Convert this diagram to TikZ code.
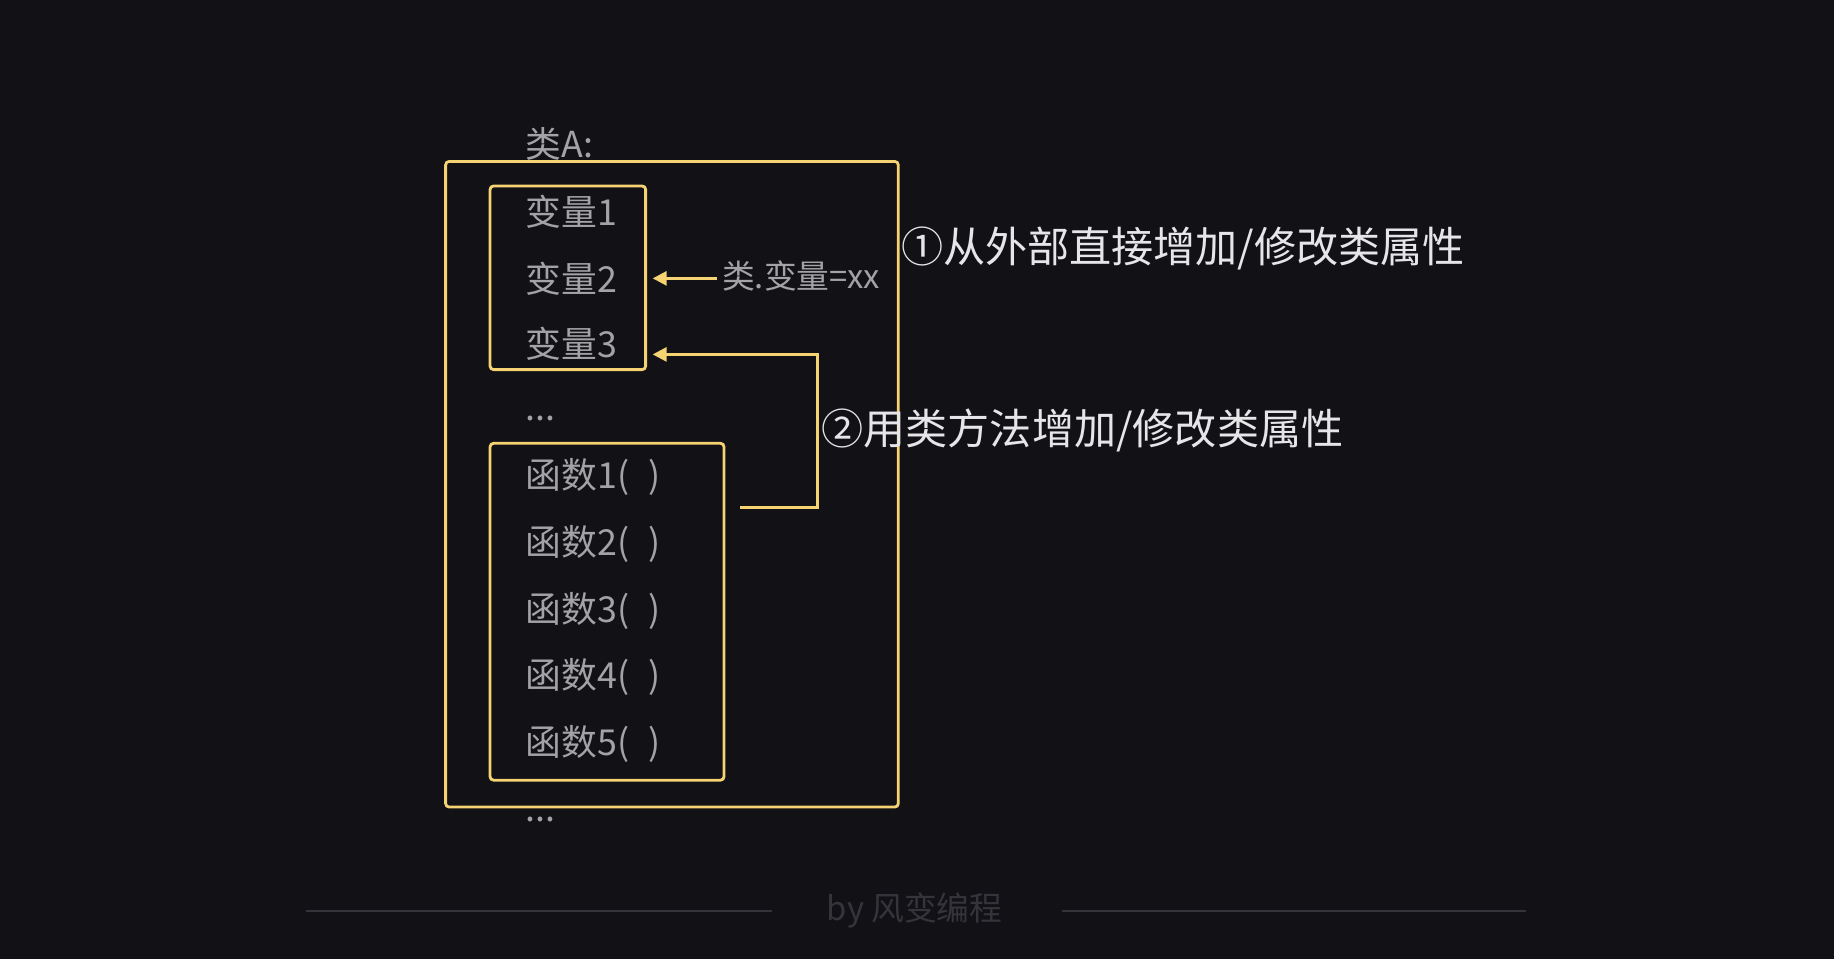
\documentclass[tikz,border=0pt]{standalone}
\usepackage{fontspec}
\setmainfont{Noto Sans CJK SC}
\usetikzlibrary{arrows.meta}
\definecolor{bgdark}{HTML}{111116}
\definecolor{frameyellow}{HTML}{F5D372}
\definecolor{itemgray}{HTML}{A3A3A6}
\definecolor{notewhite}{HTML}{E6E6E8}
\definecolor{footgray}{HTML}{34343A}
\tikzset{
  item/.style={anchor=west, inner sep=0pt, text=itemgray, font=\fontsize{15.3}{18}\selectfont},
  note/.style={anchor=west, inner sep=0pt, text=notewhite, font=\fontsize{18}{21}\selectfont},
  frame/.style={draw=frameyellow, line width=1.2pt, rounded corners=1.5pt},
  link/.style={draw=frameyellow, line width=1.2pt, -{Triangle[length=6pt,width=6pt]}}
}
\begin{document}
\begin{tikzpicture}[x=0.5pt, y=-0.5pt]
  \fill[bgdark] (0,0) rectangle (1568,820);
  \useasboundingbox (0,0) rectangle (1568,820);
  % class box
  \node[item] (title) at (449,123) {类A:};
  \draw[frame] (381,138) rectangle (768,690);
  \draw[frame] (419,159) rectangle (552,316);
  \draw[frame] (419,379) rectangle (619,667);
  \node[item] (var1) at (449,181) {变量1};
  \node[item] (var2) at (449,238) {变量2};
  \node[item] (var3) at (449,294) {变量3};
  \node[item] (dots1) at (449,358) {...};
  \foreach \i in {1,...,5}
    \node[item] (fn\i) at (449,351+57*\i) {函数\i(\hspace{0.55em})};
  \node[item] (dots2) at (449,701) {...};
  % arrows
  \coordinate (tipA) at (558,238);
  \coordinate (startA) at (613,238);
  \coordinate (tipB) at (558,303);
  \coordinate (startB) at (633,434);
  \node[item, font=\fontsize{14}{16}\selectfont] (assign) at (617,236) {类.变量=xx};
  \draw[link] (startA) -- (tipA);
  \draw[link] (startB) -- (699,434) -- (699,303) -- (tipB);
  \node[note] (way1) at (770,212) {①从外部直接增加/修改类属性};
  \node[note] (way2) at (702,368) {②用类方法增加/修改类属性};
  % footer
  \node[anchor=center, text=footgray, font=\fontsize{14}{17}\selectfont] (by) at (782,778) {by 风变编程};
  \draw[footgray, line width=0.6pt] (262,779) -- (660,779);
  \draw[footgray, line width=0.6pt] (908,779) -- (1305,779);
\end{tikzpicture}
\end{document}
